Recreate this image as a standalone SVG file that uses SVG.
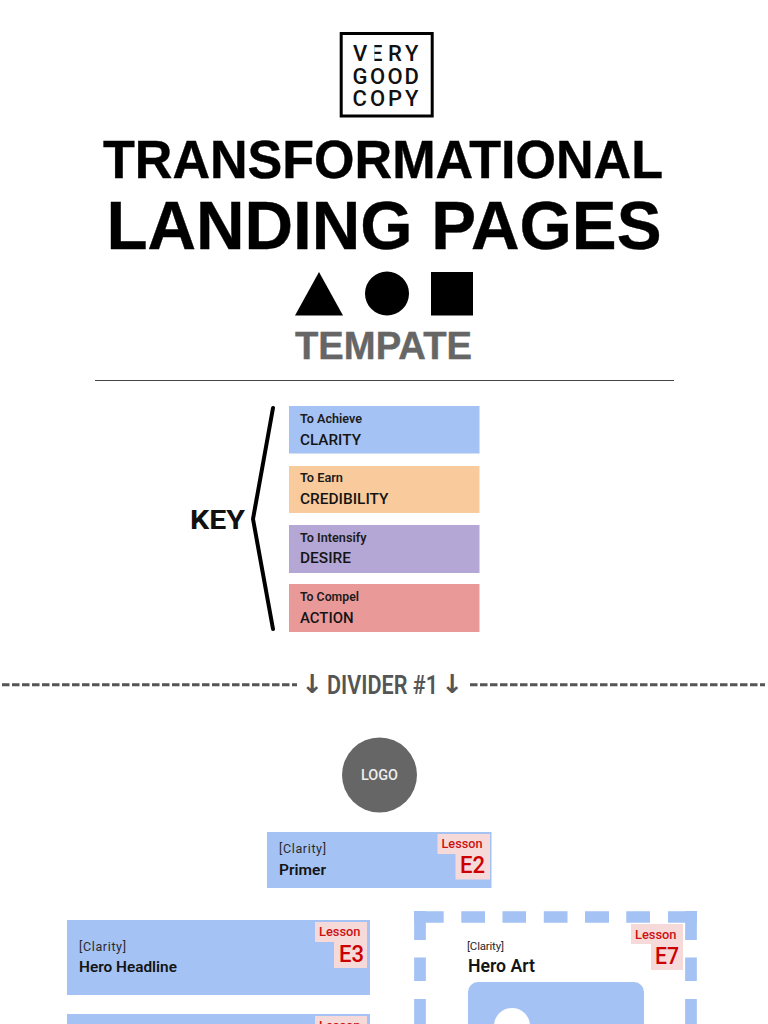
<svg xmlns="http://www.w3.org/2000/svg" width="768" height="1024" viewBox="0 0 768 1024">
<style>
text{font-family:"Roboto","Liberation Sans",sans-serif}
.h{font-family:"Liberation Sans",Arial,sans-serif;font-weight:700;stroke:currentColor;stroke-width:.4px}
.logo{font-weight:500;font-size:22px;fill:#111}
.small{font-size:12px;font-weight:600;fill:#1c1c1c}
.big{font-size:15.500px;font-weight:500;fill:#141414}
.tag{font-size:12.500px;font-weight:400;fill:#2a2a2a}
.name{font-size:15.500px;font-weight:600;fill:#141414}
.badge{fill:#f6d9d9}
.ls{font-size:13px;font-weight:500;fill:#cc1111}
.en{font-size:23px;font-weight:500;fill:#cc0000}
.blue{fill:#a4c2f4}
.dash{stroke:#555;stroke-width:3;stroke-dasharray:7.500 2.500;fill:none}
.arrow{font-family:"DejaVu Sans",sans-serif;font-weight:700;font-size:26px;fill:#555;text-anchor:middle}
</style>
<rect width="768" height="1024" fill="#fff"/>
<g id="brand">
<rect x="341.200" y="33.500" width="91" height="82.500" fill="none" stroke="#000" stroke-width="3"/>
<text class="logo" x="353 370 388 405" y="61">VERY</text>
<rect x="370.600" y="44" width="3.800" height="18" fill="#fff"/>
<text class="logo" x="352.500 370 387.500 404.500" y="84">GOOD</text>
<text class="logo" x="352.500 370 388 405" y="106">COPY</text>
</g>
<g id="title">
<text class="h" x="103" y="178" font-size="53" color="#000" textLength="560" lengthAdjust="spacingAndGlyphs">TRANSFORMATIONAL</text>
<text class="h" x="106.500" y="249" font-size="68" color="#000" textLength="555" lengthAdjust="spacingAndGlyphs">LANDING PAGES</text>
<polygon points="295,315.500 343,315.500 319,272"/>
<circle cx="387" cy="293.500" r="22"/>
<rect x="431" y="272" width="42" height="43.500"/>
<text class="h" x="295" y="359" font-size="38" fill="#666" color="#666" textLength="177" lengthAdjust="spacingAndGlyphs">TEMPATE</text>
<rect x="95" y="380" width="579" height="1" fill="#444"/>
</g>
<g id="key">
<path d="M273 408L253 519L273 629" fill="none" stroke="#000" stroke-width="4" stroke-linecap="round" stroke-linejoin="round"/>
<text x="190" y="529" font-size="26" font-weight="700" fill="#111" textLength="55" lengthAdjust="spacingAndGlyphs">KEY</text>
</g>
<g id="key-clarity">
<rect x="289" y="406" width="190.500" height="47.500" fill="#a4c2f4"/>
<text class="small" x="300" y="423" textLength="62" lengthAdjust="spacingAndGlyphs">To Achieve</text>
<text class="big" x="300" y="444.500" textLength="61" lengthAdjust="spacingAndGlyphs">CLARITY</text>
</g>
<g id="key-credibility">
<rect x="289" y="466" width="190.500" height="47" fill="#f9cb9c"/>
<text class="small" x="300" y="482" textLength="43" lengthAdjust="spacingAndGlyphs">To Earn</text>
<text class="big" x="300" y="503.500" textLength="88.500" lengthAdjust="spacingAndGlyphs">CREDIBILITY</text>
</g>
<g id="key-desire">
<rect x="289" y="525" width="190.500" height="48" fill="#b4a7d6"/>
<text class="small" x="300" y="542" textLength="66.500" lengthAdjust="spacingAndGlyphs">To Intensify</text>
<text class="big" x="300" y="562.500" textLength="51" lengthAdjust="spacingAndGlyphs">DESIRE</text>
</g>
<g id="key-action">
<rect x="289" y="584" width="190.500" height="48" fill="#ea9999"/>
<text class="small" x="300" y="601" textLength="59" lengthAdjust="spacingAndGlyphs">To Compel</text>
<text class="big" x="300" y="622.500" textLength="53.500" lengthAdjust="spacingAndGlyphs">ACTION</text>
</g>
<g id="divider" fill="#555">
<path class="dash" d="M2 684.700H297M470 684.700H765"/>
<text class="arrow" x="312.500" y="692.500">↓</text>
<text x="327" y="694" font-size="26" font-weight="600" textLength="111" lengthAdjust="spacingAndGlyphs">DIVIDER #1</text>
<text class="arrow" x="452.500" y="692.500">↓</text>
</g>
<g id="logo">
<circle cx="379.500" cy="775" r="37.500" fill="#666"/>
<text x="361" y="780" font-size="14" font-weight="500" fill="#eee" textLength="37" lengthAdjust="spacingAndGlyphs">LOGO</text>
</g>
<g id="primer">
<rect class="blue" x="267" y="832" width="224.500" height="56"/>
<path class="badge" d="M437.500 834H490V879.500H455.500V854H437.500Z"/>
<text class="ls" x="441.500" y="848" textLength="41" lengthAdjust="spacingAndGlyphs">Lesson</text>
<text class="en" x="460" y="873" textLength="25" lengthAdjust="spacingAndGlyphs">E2</text>
<text class="tag" x="279" y="853" textLength="47" lengthAdjust="spacing">[Clarity]</text>
<text class="name" x="279" y="875" textLength="47" lengthAdjust="spacingAndGlyphs">Primer</text>
</g>
<g id="hero-headline">
<rect class="blue" x="67" y="920" width="303" height="75"/>
<path class="badge" d="M315 922H367V968H334V942H315Z"/>
<text class="ls" x="319" y="936" textLength="41.500" lengthAdjust="spacingAndGlyphs">Lesson</text>
<text class="en" x="339" y="962" textLength="25" lengthAdjust="spacingAndGlyphs">E3</text>
<text class="tag" x="79" y="951" textLength="47" lengthAdjust="spacing">[Clarity]</text>
<text class="name" x="79" y="972" textLength="98" lengthAdjust="spacingAndGlyphs">Hero Headline</text>
</g>
<g id="next-block">
<rect class="blue" x="67" y="1014" width="303" height="20"/>
<path class="badge" d="M315 1016H367V1034H315Z"/>
<text class="ls" x="319" y="1030" textLength="41.500" lengthAdjust="spacingAndGlyphs">Lesson</text>
</g>
<g id="hero-art">
<path d="M414 917H443.700M461.300 917H485M502.500 917H526M543.800 917H567.500M585 917H609M626.300 917H650M668 917H697M420 911V940M420 957.500V981M420 999V1030M691 911V940M691 957.500V981M691 999V1030" fill="none" stroke="#a4c2f4" stroke-width="11.700"/>
<path class="badge" d="M631 924H683V970H651V944H631Z"/>
<text class="ls" x="635" y="939" textLength="41.500" lengthAdjust="spacingAndGlyphs">Lesson</text>
<text class="en" x="655" y="964" textLength="24" lengthAdjust="spacingAndGlyphs">E7</text>
<text class="tag" x="467" y="950" style="font-size:11.500px" textLength="37" lengthAdjust="spacing">[Clarity]</text>
<text class="name" x="468" y="972" style="font-size:19px" textLength="67" lengthAdjust="spacingAndGlyphs">Hero Art</text>
<rect class="blue" x="468" y="982" width="176" height="60" rx="10"/>
<circle cx="512" cy="1026" r="18" fill="#fff"/>
</g>
</svg>
